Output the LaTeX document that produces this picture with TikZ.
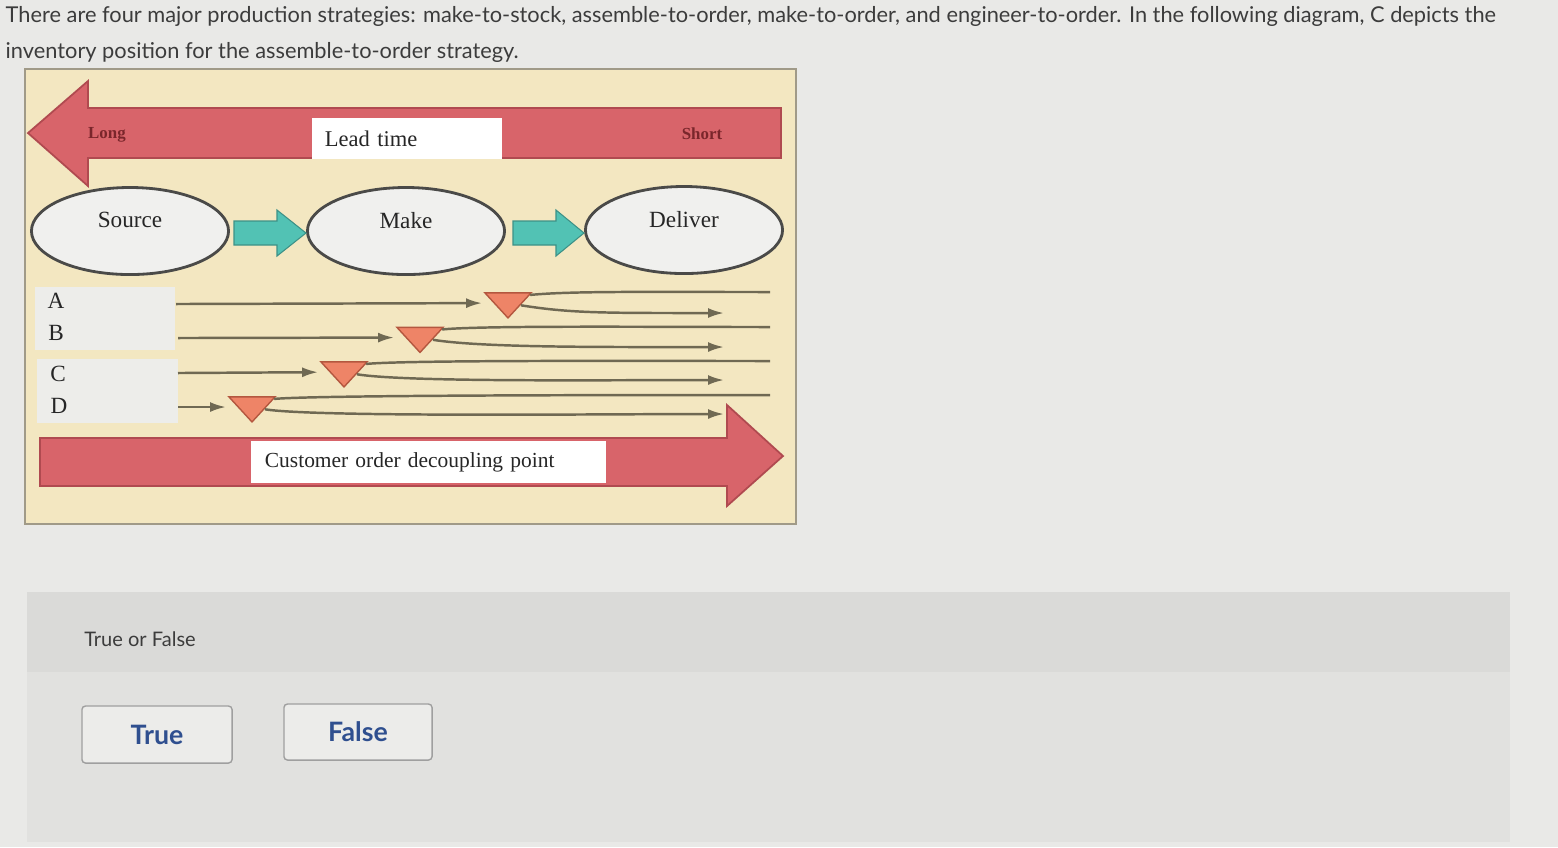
\documentclass[tikz,border=0pt]{standalone}
\usepackage{fontspec}
\setmainfont{Liberation Serif}
\newfontfamily\uifont{Lato}
\usetikzlibrary{positioning}
\usetikzlibrary{shapes.geometric}
\usetikzlibrary{arrows.meta}

\definecolor{pagebg}{HTML}{E9E9E7}
\definecolor{cardbg}{HTML}{E1E1DF}
\definecolor{cardhead}{HTML}{DADAD8}
\definecolor{panel}{HTML}{F3E7C1}
\definecolor{paneledge}{HTML}{A09A88}
\definecolor{arrowred}{HTML}{D8646A}
\definecolor{arrowedge}{HTML}{B04A50}
\definecolor{darkred}{HTML}{7A262B}
\definecolor{flowteal}{HTML}{52C2B4}
\definecolor{stagefill}{HTML}{F0F0EE}
\definecolor{stageedge}{HTML}{4A4A48}
\definecolor{bufferfill}{HTML}{EE8467}
\definecolor{bufferedge}{HTML}{B4573F}
\definecolor{flowline}{HTML}{6F6953}
\definecolor{labelfill}{HTML}{EDEDEA}
\definecolor{btnfill}{HTML}{ECECEA}
\definecolor{btnblue}{HTML}{2F4F8F}
\definecolor{uitext}{HTML}{3C3C3C}

\begin{document}
\begin{tikzpicture}[x=0.01cm,y=-0.01cm,
  bigarrow/.style={fill=arrowred,draw=arrowedge,line width=0.5pt},
  tealarrow/.style={fill=flowteal,draw=flowteal!75!black,line width=0.3pt},
  stage/.style={ellipse,draw=stageedge,line width=0.8pt,fill=stagefill,minimum width=1.97cm,minimum height=0.87cm,inner sep=0pt,text depth=0.22cm,font=\fontsize{6.6}{8}\selectfont,text=black!85},
  whitebox/.style={fill=white,inner ysep=0pt,align=left,font=\fontsize{6.4}{8}\selectfont,text=black!85},
  letter/.style={font=\fontsize{6.6}{8}\selectfont,text=black!85},
  ends/.style={font=\bfseries\fontsize{4.8}{6}\selectfont,text=darkred},
  buffer/.style={isosceles triangle,isosceles triangle stretches,shape border rotate=270,fill=bufferfill,draw=bufferedge,line width=0.4pt,minimum width=0.46cm,minimum height=0.25cm,inner sep=0pt},
  flow/.style={draw=flowline,line width=0.7pt},
  tip/.style={-{Latex[length=1.6mm,width=1mm]}},
  answer/.style={draw=gray!75,rounded corners=1pt,fill=btnfill,minimum width=1.5cm,minimum height=0.57cm,font=\uifont\bfseries\fontsize{7.6}{9}\selectfont,text=btnblue}
]
\useasboundingbox (0,0) rectangle (1558,847);
\fill[pagebg] (0,0) rectangle (1558,847);

% question text
\node[anchor=north west,align=left,inner sep=0pt,text=uitext,
      font=\uifont\fontsize{6.2}{10.2}\selectfont] (question) at (5,6)
  {There are four major production strategies: make-to-stock, assemble-to-order, make-to-order, and engineer-to-order. In the following diagram, C depicts the\\
   inventory position for the assemble-to-order strategy.};

% diagram panel
\draw[paneledge,fill=panel,line width=0.8pt] (25,69) rectangle (796,524);

% lead time arrow
\draw[bigarrow] (28,133) -- (88,81) -- (88,108) -- (781,108) -- (781,158)
  -- (88,158) -- (88,186) -- cycle;
\node[whitebox,minimum width=1.9cm,minimum height=0.41cm,text width=1.64cm,inner xsep=0.13cm] (lead) at (407,138.5) {Lead time};
\node[ends] (long) at (107,135) {Long};
\node[ends] (short) at (702,134) {Short};

% process stages
\node[stage] (source) at (130,231) {Source};
\node[stage] (make) at (406,231) {Make};
\node[stage] (deliver) at (684,230) {Deliver};
\draw[tealarrow] (234,221) -- (277,221) -- (277,210) -- (306,233) -- (277,256)
  -- (277,245) -- (234,245) -- cycle;
\draw[tealarrow] (513,221) -- (556,221) -- (556,210) -- (584,233) -- (556,256)
  -- (556,245) -- (513,245) -- cycle;

% strategy labels
\fill[labelfill] (35,287) rectangle (175,350);
\fill[labelfill] (37,359) rectangle (178,423);
\node[letter] (la) at (56,301) {A};
\node[letter] (lb) at (56,333) {B};
\node[letter] (lc) at (58,374) {C};
\node[letter] (ld) at (59,406) {D};

% decoupling points
\node[buffer] (ta) at (508,303) {};
\node[buffer] (tb) at (420,337.5) {};
\node[buffer] (tc) at (344,372) {};
\node[buffer] (td) at (252,407) {};

\coordinate (ina) at (176,304);
\coordinate (inb) at (178,338);
\coordinate (inc) at (178,373);
\coordinate (ind) at (178,407);
\coordinate (upa) at (770,292);
\coordinate (upb) at (770,327);
\coordinate (upc) at (770,361);
\coordinate (upd) at (770,395);
\coordinate (dna) at (724,313);
\coordinate (dnb) at (724,347);
\coordinate (dnc) at (724,380);
\coordinate (dnd) at (724,414);

\path
  (ina) edge[flow,tip,shorten >=0.11cm] (ta)
  (inb) edge[flow,tip,shorten >=0.11cm] (tb)
  (inc) edge[flow,tip,shorten >=0.11cm] (tc)
  (ind) edge[flow,tip,shorten >=0.11cm] (td);
\draw[flow] (ta.20) .. controls +(40,-4) and +(-120,0) .. (upa);
\draw[flow] (tb.20) .. controls +(40,-4) and +(-120,0) .. (upb);
\draw[flow] (tc.20) .. controls +(40,-4) and +(-120,0) .. (upc);
\draw[flow] (td.20) .. controls +(40,-4) and +(-120,0) .. (upd);
\draw[flow,tip] (ta.-10) .. controls +(50,8) and +(-120,0) .. (dna);
\draw[flow,tip] (tb.-10) .. controls +(50,8) and +(-120,0) .. (dnb);
\draw[flow,tip] (tc.-10) .. controls +(50,8) and +(-120,0) .. (dnc);
\draw[flow,tip] (td.-10) .. controls +(50,8) and +(-120,0) .. (dnd);

% decoupling point arrow
\draw[bigarrow] (40,438) -- (727,438) -- (727,405) -- (783,456) -- (727,506)
  -- (727,486) -- (40,486) -- cycle;
\node[whitebox,font=\fontsize{6.1}{8}\selectfont,minimum width=3.55cm,minimum height=0.42cm,text width=3.27cm,inner xsep=0.14cm] (codp) at (428.5,462) {Customer order decoupling point};

% answer card
\fill[cardbg] (27,592) rectangle (1510,842);
\fill[cardhead] (27,592) rectangle (1510,672);
\node[font=\uifont\fontsize{5.7}{7}\selectfont,text=uitext] (tof) at (140,639) {True or False};
\node[answer] (true) at (157,734.5) {True};
\node[answer,minimum width=1.48cm,minimum height=0.56cm] (false) at (358,732) {False};
\end{tikzpicture}
\end{document}
